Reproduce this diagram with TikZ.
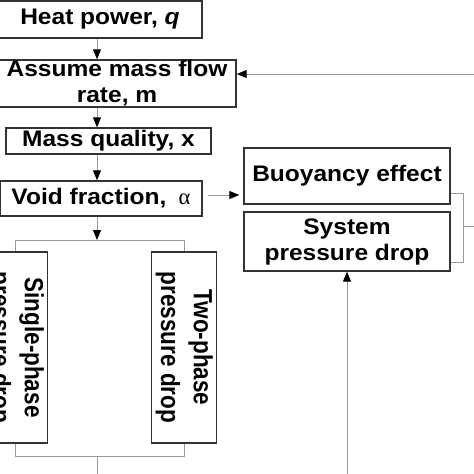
\documentclass[tikz,border=0pt]{standalone}
\usepackage{fontspec}
\setmainfont{Liberation Sans}[FakeStretch=1.09]
\newfontfamily\rotf{Liberation Sans}
\newfontfamily\grk{Liberation Serif}
\usetikzlibrary{arrows.meta}
\definecolor{boxc}{HTML}{333333}
\definecolor{linec}{HTML}{999999}
\tikzset{
  x=1pt, y=-1pt,
  box/.style={draw=boxc, line width=1.4pt, fill=white, inner sep=0pt, align=center,
    font=\fontsize{22.5}{26}\selectfont\bfseries},
  rbox/.style={box, rotate=-90, minimum width=191pt, minimum height=62pt},
  conn/.style={draw=linec, line width=1pt},
  arr/.style={conn, -{Triangle[length=10pt,width=8pt,color=black]}}
}
\newcommand{\rottext}[2]{\scalebox{1}[1.17]{\rotf\bfseries\fontsize{22.5}{28}\selectfont\begin{tabular}{@{}c@{}}#1\\#2\end{tabular}}}
\begin{document}
\begin{tikzpicture}
\useasboundingbox (0,0) rectangle (474,474);
\fill[white] (0,0) rectangle (474,474);
\clip (0,0) rectangle (474,474);
\node[box, minimum width=204pt, minimum height=37pt] (heat) at (100,19.5) {Heat power, \textit{q}};
\node[box, minimum width=238pt, minimum height=47pt] (assume) at (117,83.5) {Assume mass flow\\rate, m};
\node[box, minimum width=205pt, minimum height=26pt] (mass) at (108.5,141) {Mass quality, x};
\node[box, minimum width=202pt, minimum height=35pt] (void) at (101,198.5) {Void fraction,\hspace{0.55em}{\grk\mdseries α}};
\node[box, minimum width=206pt, minimum height=56pt] (buoy) at (347,176) {Buoyancy effect};
\node[box, minimum width=206pt, minimum height=59pt] (sys) at (347,241.5) {System\\pressure drop};
\node[rbox] (two) at (184,347.5) {\rottext{Two-phase}{pressure drop}};
\node[rbox] (single) at (15,347.5) {\rottext{Single-phase}{pressure drop}};
\coordinate (sp) at (97,0);
\coordinate (vr) at (0,195);
\coordinate (splitTop) at (97,240);
\coordinate (splitBot) at (97,456);
\coordinate (outBot) at (97,474);
\coordinate (br1) at (463,193);
\coordinate (br2) at (463,262);
\coordinate (brm) at (463,226);
\coordinate (brOut) at (474,226);
\coordinate (fbR) at (474,74);
\coordinate (sysIn) at (347,474);
\draw[arr] (heat.south -| sp) -- (assume.north -| sp);
\draw[arr] (assume.south -| sp) -- (mass.north -| sp);
\draw[arr] (mass.south -| sp) -- (void.north -| sp);
\draw[arr] (void.south -| sp) -- (splitTop);
\draw[conn] (single.west) -- (single.west |- splitTop) -- (two.west |- splitTop) -- (two.west);
\draw[conn] (single.east) -- (single.east |- splitBot) -- (two.east |- splitBot) -- (two.east);
\draw[conn] (splitBot) -- (outBot);
\draw[arr, shorten <=5pt, shorten >=4pt] (void.east |- vr) -- (buoy.west |- vr);
\draw[conn] (buoy.east |- br1) -- (br1) -- (br2) -- (sys.east |- br2);
\draw[conn] (brm) -- (brOut);
\draw[arr] (fbR) -- (assume.east |- fbR);
\draw[arr] (sysIn) -- (sys.south);
\end{tikzpicture}
\end{document}
